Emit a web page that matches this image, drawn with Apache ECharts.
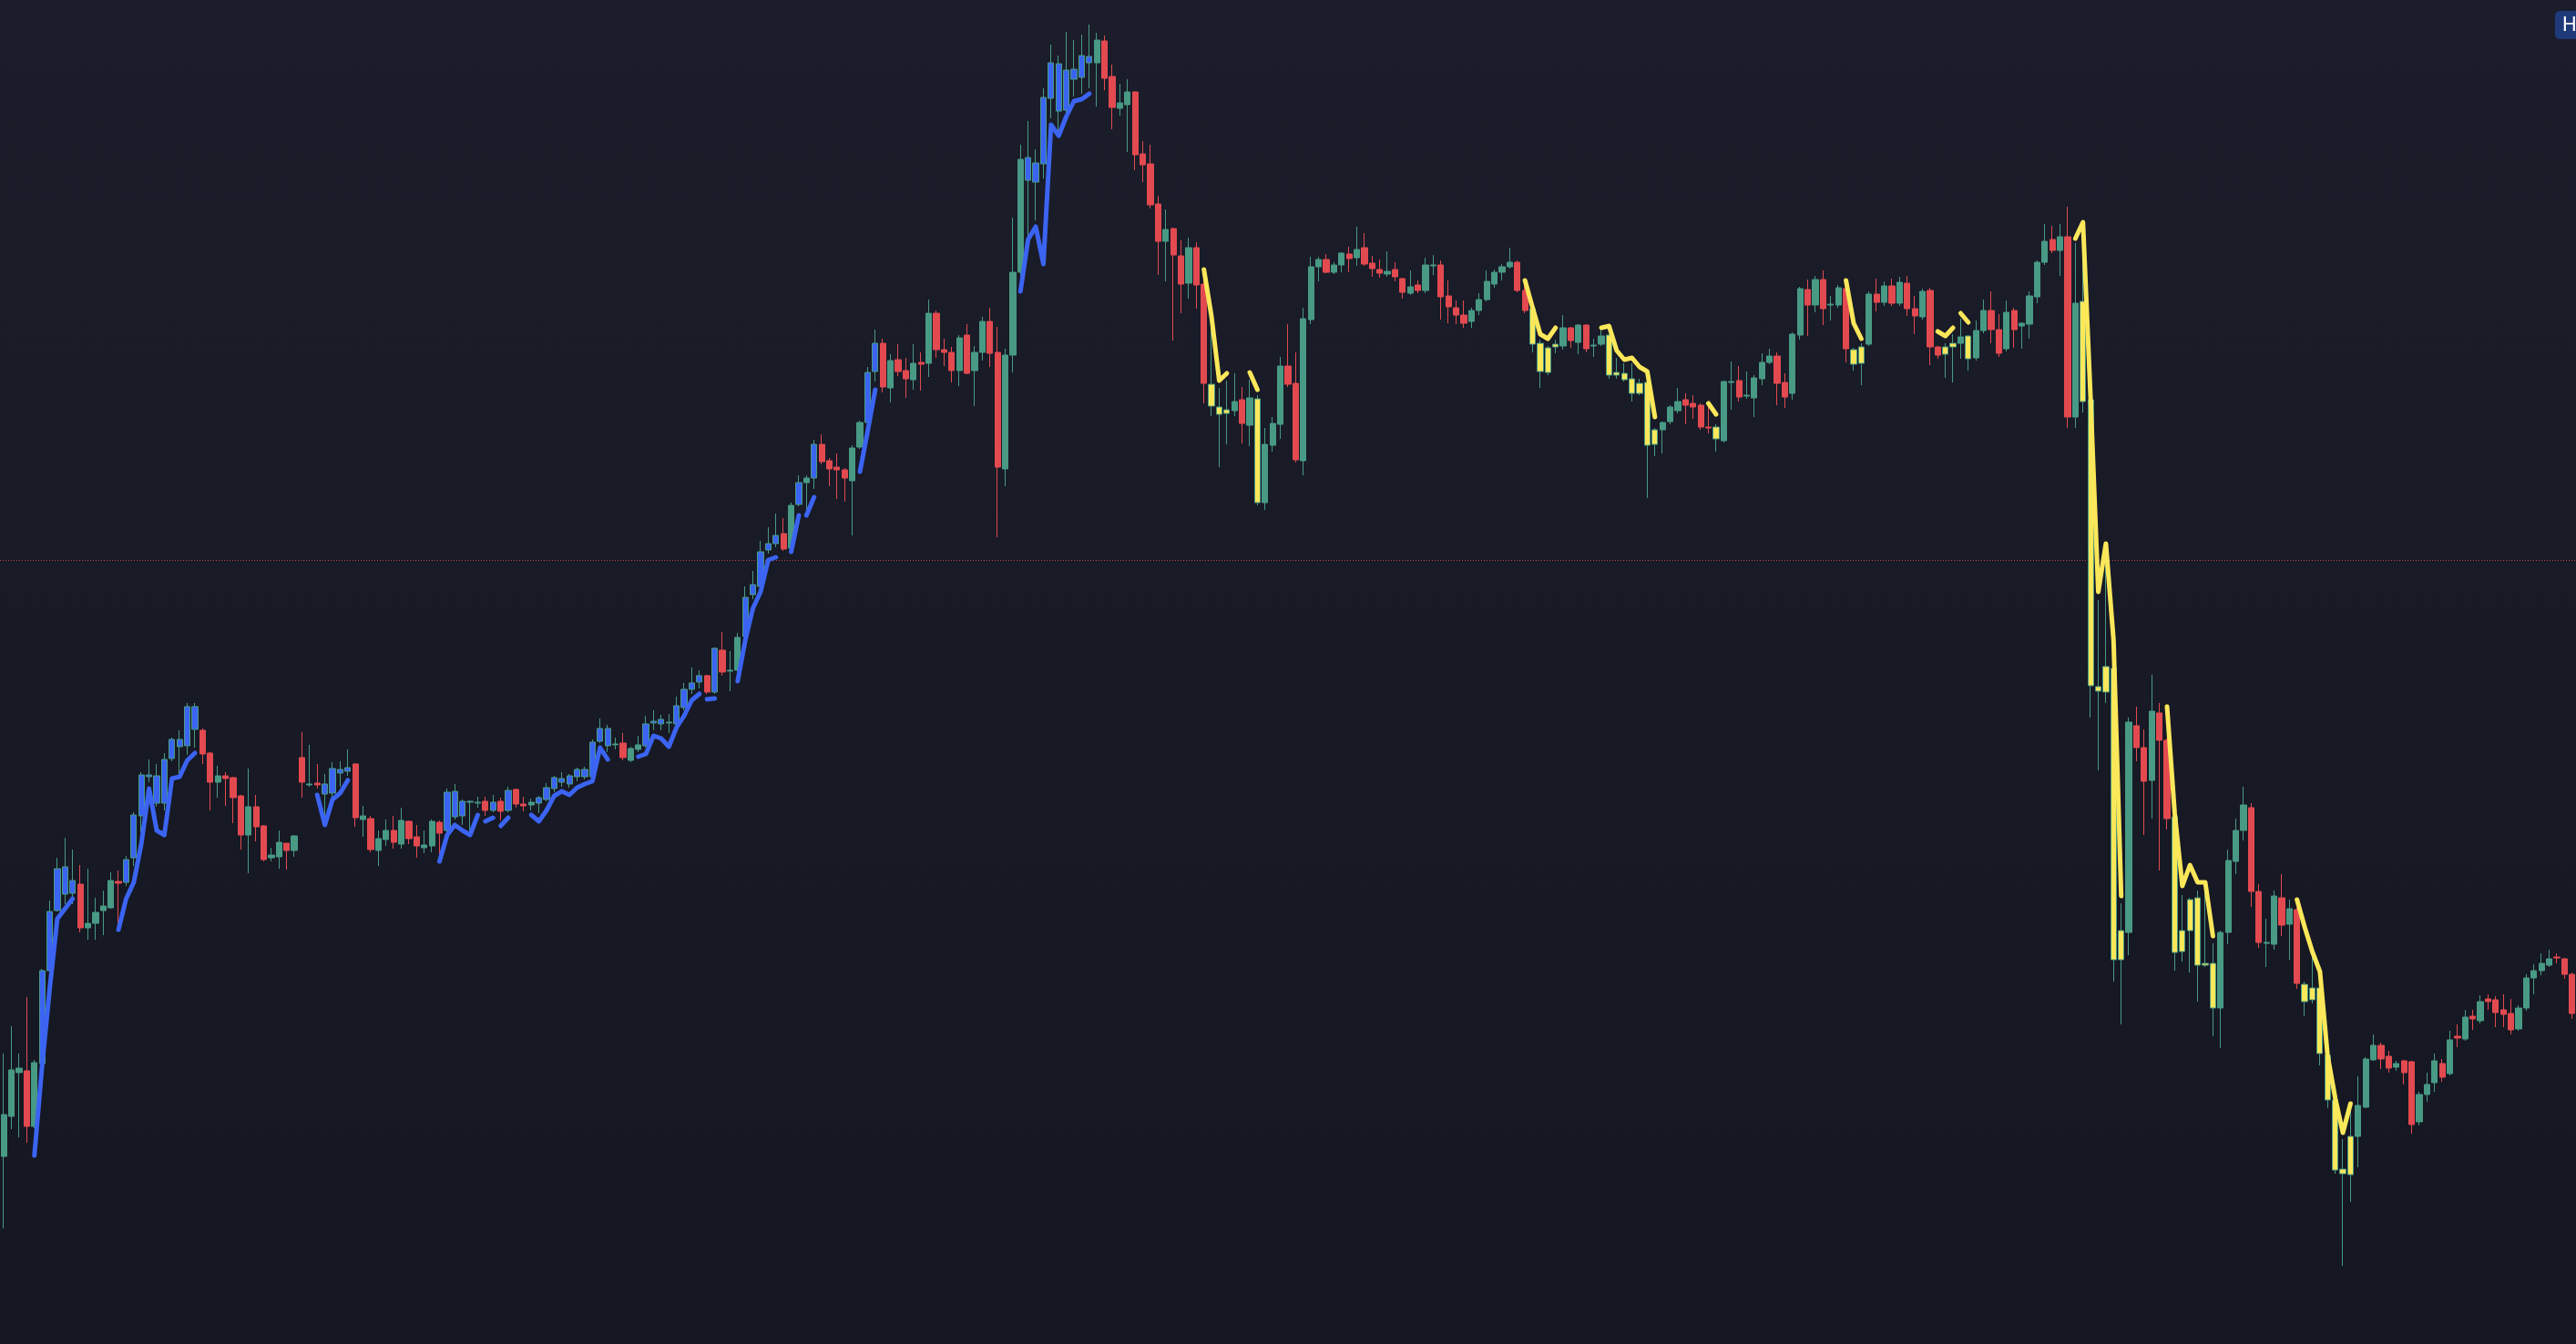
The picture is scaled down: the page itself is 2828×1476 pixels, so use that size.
<!DOCTYPE html>
<html>
<head>
<meta charset="utf-8">
<script src="https://cdn.jsdelivr.net/npm/echarts@6/dist/echarts.min.js"></script>
<style>
html,body{margin:0;padding:0;background:#181a26;overflow:hidden;}
#c{width:2828px;height:1476px;}
</style>
</head>
<body>
<div id="c"></div>
<script>
// ---- candle data (price units) ----
const open = [
206,250,298,300,239,308,410,476,524,495,
505,457,462,476,479,508,507,534,580,623,
624,594,643,664,657,700,674,649,617,624,
622,602,559,590,569,534,535,550,542,644,
614,616,615,605,631,629,637,576,577,542,
554,564,549,574,557,545,547,573,564,607,
580,595,595,596,586,596,586,609,593,592,
594,598,610,621,615,623,631,623,662,676,
658,660,641,653,657,682,686,682,681,699,
719,727,734,716,762,739,740,777,823,832,
872,879,890,874,922,946,951,988,970,963,
960,948,985,1012,1068,1099,1050,1081,1069,1059,
1078,1077,1132,1092,1089,1069,1108,1069,1089,1123,
1089,961,1086,1177,1303,1276,1296,1368,1406,1355,
1400,1391,1414,1407,1431,1392,1357,1361,1375,1307,
1296,1252,1211,1225,1195,1165,1204,1164,1054,1029,
1022,1025,1037,1009,1038,924,987,1010,1074,1055,
970,1125,1183,1191,1177,1185,1197,1193,1204,1187,
1180,1175,1180,1170,1154,1163,1157,1184,1185,1151,
1138,1130,1123,1135,1147,1164,1177,1183,1188,1157,
1137,1099,1067,1098,1096,1116,1100,1119,1096,1098,
1108,1064,1066,1060,1044,1056,988,1004,1013,1025,
1037,1033,1031,1007,1007,992,1056,1058,1041,1039,
1060,1078,1085,1056,1044,1108,1158,1141,1169,1141,
1141,1159,1092,1077,1098,1153,1144,1162,1143,1165,
1137,1128,1157,1095,1087,1095,1099,1107,1083,1113,
1135,1114,1093,1135,1118,1120,1150,1188,1213,1201,
1216,1018,1145,1037,722,716,742,422,452,679,
655,619,693,663,579,431,454,490,416,418,
369,452,530,564,589,497,440,439,490,461,
477,395,378,391,317,268,192,186,228,260,
312,328,316,304,311,310,244,274,287,308,
297,338,335,360,355,379,378,367,363,346,
369,402,410,416,425,423,406
];
const close = [
252,301,303,239,309,410,475,522,494,509,
457,462,474,481,509,506,532,581,625,625,
594,642,664,656,700,675,648,617,624,621,
600,559,590,568,532,537,551,542,558,617,
615,614,604,632,627,633,578,580,543,555,
564,551,575,555,547,548,574,561,606,579,
596,596,594,586,595,585,608,593,591,595,
600,611,622,617,624,631,623,661,676,657,
659,644,654,658,681,684,681,683,701,719,
726,734,716,764,738,740,776,820,834,870,
879,888,873,921,946,951,988,969,961,960,
951,984,1012,1067,1099,1051,1080,1068,1060,1077,
1076,1132,1092,1089,1069,1105,1066,1089,1123,1088,
963,1086,1177,1301,1278,1297,1369,1407,1354,1399,
1389,1415,1407,1432,1390,1358,1363,1375,1306,1295,
1251,1211,1224,1196,1164,1204,1163,1055,1030,1021,
1026,1035,1011,1039,924,988,1011,1074,1054,971,
1126,1183,1191,1177,1185,1198,1192,1202,1186,1181,
1176,1178,1172,1155,1161,1157,1185,1185,1150,1139,
1130,1121,1135,1147,1167,1177,1183,1188,1157,1135,
1098,1068,1094,1095,1116,1102,1119,1093,1097,1107,
1064,1067,1059,1044,1055,987,1004,1012,1029,1035,
1031,1029,1007,1006,994,1057,1057,1040,1042,1061,
1078,1085,1055,1040,1109,1159,1141,1169,1137,1142,
1160,1093,1076,1095,1153,1144,1162,1143,1166,1137,
1129,1156,1095,1086,1095,1099,1106,1082,1113,1135,
1114,1088,1133,1114,1121,1151,1188,1211,1201,1216,
1018,1143,1035,723,717,744,422,454,683,655,
618,695,663,577,430,454,488,416,418,369,
452,531,564,592,497,441,441,492,460,478,
396,376,391,319,268,191,187,228,262,313,
328,313,303,308,298,241,274,285,311,293,
334,336,359,357,376,376,364,362,345,369,
402,410,418,423,424,406,363
];
const high = [
319,349,319,381,312,412,487,534,556,543,
526,522,490,498,518,520,536,584,628,642,
637,649,666,674,704,704,676,650,635,628,
623,603,632,603,570,545,564,550,559,672,
658,637,626,639,640,653,638,591,580,564,
576,580,589,575,570,564,576,575,610,615,
598,597,601,601,603,600,612,610,601,599,
602,616,624,628,626,633,634,664,687,680,
666,671,656,668,690,696,691,692,711,726,
743,740,735,765,782,761,781,832,849,882,
897,912,907,924,954,954,993,999,973,978,
962,987,1014,1073,1114,1104,1087,1098,1083,1098,
1089,1147,1135,1104,1095,1108,1120,1096,1128,1138,
1117,1093,1237,1317,1343,1312,1379,1427,1415,1441,
1432,1438,1449,1440,1437,1405,1384,1389,1376,1321,
1317,1261,1246,1226,1212,1215,1210,1173,1120,1050,
1058,1066,1051,1059,1042,1006,1018,1084,1120,1089,
1138,1194,1194,1197,1188,1199,1205,1227,1220,1195,
1191,1200,1188,1171,1179,1168,1193,1196,1190,1168,
1146,1146,1138,1154,1179,1180,1186,1204,1190,1169,
1140,1103,1096,1103,1130,1117,1120,1120,1104,1118,
1109,1083,1077,1077,1060,1060,1006,1013,1031,1050,
1044,1042,1033,1032,1010,1058,1079,1074,1068,1064,
1088,1093,1089,1066,1111,1161,1169,1173,1179,1151,
1163,1169,1094,1099,1156,1170,1167,1170,1172,1173,
1151,1159,1160,1096,1099,1109,1126,1108,1124,1147,
1156,1131,1146,1138,1122,1156,1190,1230,1228,1230,
1249,1209,1225,1040,817,875,765,484,688,700,
675,735,704,665,582,493,490,498,498,440,
454,543,577,612,594,505,467,498,516,488,
479,398,429,402,319,274,225,260,294,315,
340,331,322,311,312,311,277,298,319,313,
344,351,367,367,383,384,382,384,379,372,
406,417,429,433,429,424,408
];
const low = [
127,236,227,221,237,293,398,475,483,483,
452,444,444,449,478,459,503,525,562,617,
590,586,640,625,647,655,637,586,600,591,
572,543,517,552,530,530,522,521,535,600,
612,610,577,600,612,624,568,557,540,525,
547,544,544,549,534,539,540,536,560,576,
570,558,589,580,584,575,584,589,585,586,
583,596,606,612,611,618,620,620,660,650,
653,641,639,650,655,674,674,671,678,696,
714,720,714,714,734,717,738,773,818,828,
868,875,871,872,920,910,939,966,942,928,
925,888,983,1010,1057,1045,1034,1063,1039,1048,
1047,1062,1083,1074,1056,1052,1065,1030,1080,1073,
886,942,1067,1170,1216,1234,1280,1346,1333,1345,
1370,1373,1379,1359,1377,1334,1349,1309,1289,1276,
1247,1174,1167,1102,1132,1148,1137,1033,1019,963,
988,1019,989,986,921,916,980,994,1051,968,
954,1120,1167,1176,1175,1177,1177,1184,1184,1172,
1171,1172,1167,1148,1152,1154,1154,1174,1125,1121,
1120,1116,1116,1130,1145,1160,1168,1181,1155,1132,
1089,1050,1064,1088,1092,1094,1087,1089,1084,1096,
1060,1060,1057,1035,1042,929,975,978,1010,1022,
1010,1016,1004,1000,980,990,1026,1035,1038,1018,
1053,1076,1031,1028,1037,1103,1107,1133,1119,1124,
1138,1078,1069,1053,1096,1134,1140,1140,1140,1129,
1109,1125,1075,1082,1061,1056,1082,1069,1080,1110,
1099,1084,1090,1094,1093,1104,1143,1185,1198,1173,
1006,1006,1023,688,630,704,398,351,427,640,
559,577,520,565,410,420,408,376,414,338,
325,439,516,553,480,435,414,433,448,422,
390,360,374,306,259,187,86,156,194,259,
311,302,298,300,285,231,240,266,277,288,
295,326,333,345,352,367,348,348,340,344,
366,384,405,414,418,401,357
];

// ---- trend line segments: start bar index + values ----
const blueSegStarts = [4, 15, 41, 57, 63, 65, 69, 83, 92, 96, 103, 105, 112, 133];
const blueSegValues = [
  [207, 305, 390, 467, 478, 489],
  [455, 489, 507, 550, 610, 564, 559, 621, 623, 641, 649],
  [603, 570, 598, 605, 619],
  [530, 559, 570, 564, 559, 581],
  [574, 578],
  [569, 578],
  [581, 574, 586, 602, 607, 603, 611, 615, 618, 655, 642],
  [645, 648, 668, 665, 656, 677, 690, 707, 714],
  [708, 709],
  [728, 773, 808, 826, 861, 864],
  [870, 910],
  [910, 930],
  [958, 1002, 1048],
  [1156, 1213, 1227, 1186, 1339, 1327, 1348, 1365, 1367, 1373]
];
const yellowSegStarts = [157, 163, 199, 209, 223, 241, 253, 256, 271, 283, 300];
const yellowSegValues = [
  [1180, 1128, 1058, 1066],
  [1067, 1048],
  [1168, 1138, 1109, 1104, 1116],
  [1116, 1118, 1091, 1081, 1083, 1073, 1068, 1018],
  [1033, 1021],
  [1168, 1121, 1104],
  [1112, 1107, 1116],
  [1132, 1122],
  [1214, 1232, 1038, 826, 879, 773, 492],
  [700, 583, 503, 526, 507, 507, 448],
  [488, 458, 431, 409, 317, 270, 232, 264]
];
const priceLineLevel = 861;
const tagText = 'H';

// ---- styles ----
const GREEN = '#489a84', RED = '#e24a50', BLUE = '#3b64f2', YELLOW = '#fbe75a';
const N = open.length;
const categories = Array.from({length: N}, (_, i) => 'B' + (i + 1));

const fill = new Array(N).fill(null);
function markFill(starts, values, color) {
  starts.forEach((s, k) => {
    for (let j = 1; j < values[k].length; j++) fill[s + j] = color;
  });
}
markFill(blueSegStarts, blueSegValues, BLUE);
markFill(yellowSegStarts, yellowSegValues, YELLOW);

const candleData = open.map((o, i) => {
  const item = { value: [o, close[i], low[i], high[i]] };
  if (fill[i]) {
    item.itemStyle = { color: fill[i], color0: fill[i], borderColor: GREEN, borderColor0: RED };
  }
  return item;
});

function segSeries(starts, values, color) {
  return starts.map((s, k) => {
    const arr = new Array(N).fill(null);
    values[k].forEach((v, j) => { arr[s + j] = v; });
    return {
      type: 'line', data: arr, symbol: 'none', smooth: false, connectNulls: false,
      silent: true, z: 5,
      lineStyle: { color: color, width: 5, cap: 'round', join: 'round' }
    };
  });
}

const chart = echarts.init(document.getElementById('c'), null, { renderer: 'canvas' });
chart.setOption({
  animation: false,
  backgroundColor: new echarts.graphic.LinearGradient(0, 0, 0, 1, [
    { offset: 0, color: '#1b1d2a' },
    { offset: 1, color: '#141621' }
  ]),
  grid: { left: 0, right: 0, top: 0, bottom: 0 },
  xAxis: { type: 'category', data: categories, boundaryGap: true, show: false },
  yAxis: { type: 'value', min: 0, max: 1476, show: false },
  series: [
    {
      type: 'candlestick',
      data: candleData,
      barWidth: '80%',
      z: 3,
      itemStyle: { color: GREEN, color0: RED, borderColor: GREEN, borderColor0: RED, borderWidth: 1 },
      markLine: {
        silent: true, symbol: ['none', 'none'], z: 1,
        label: { show: false },
        lineStyle: { color: 'rgba(226,74,82,0.85)', width: 1, type: [1, 2] },
        data: [{ yAxis: priceLineLevel }]
      }
    },
    ...segSeries(blueSegStarts, blueSegValues, BLUE),
    ...segSeries(yellowSegStarts, yellowSegValues, YELLOW)
  ],
  graphic: [
    { type: 'rect', shape: { x: 2805, y: 12, width: 40, height: 31, r: 5 }, style: { fill: '#1f3a78' }, z: 10 },
    { type: 'text', x: 2813, y: 28, z: 11,
      style: { text: tagText, fill: '#ffffff', fontSize: 22, fontFamily: 'Roboto', verticalAlign: 'middle' } }
  ]
});
</script>
</body>
</html>
